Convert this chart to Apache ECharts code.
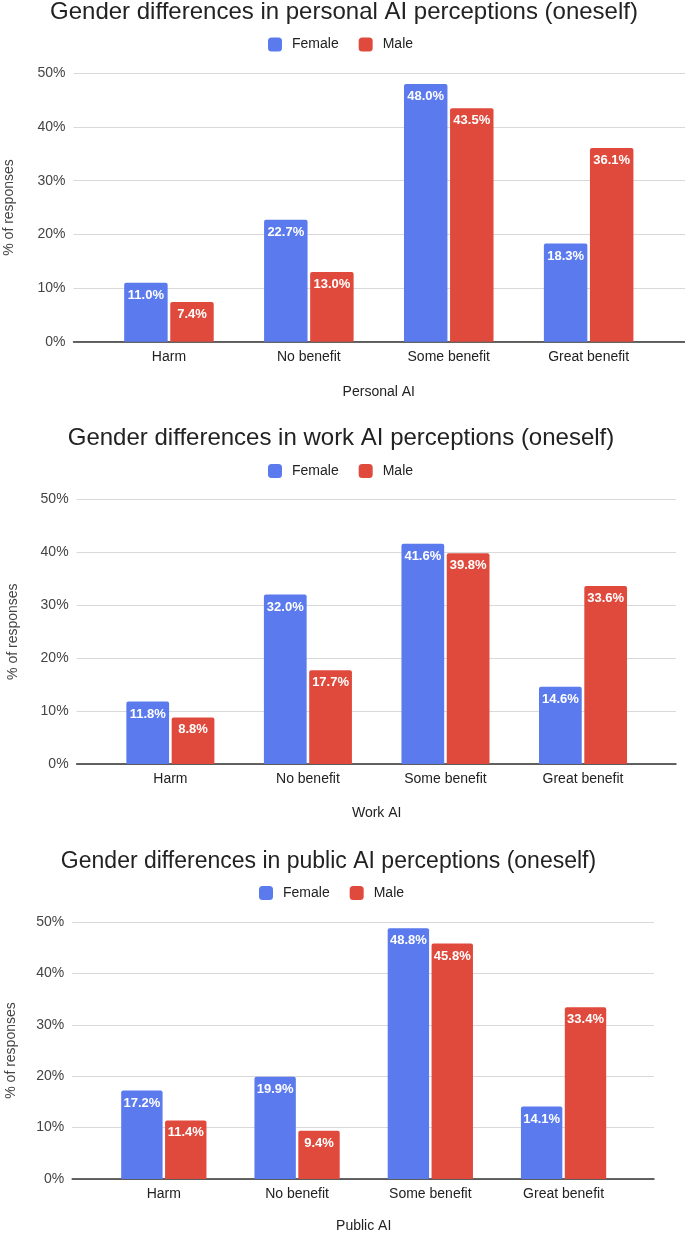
<!DOCTYPE html>
<html>
<head>
<meta charset="utf-8">
<script src="https://cdn.jsdelivr.net/npm/echarts@6/dist/echarts.min.js"></script>
<style>
html,body{margin:0;padding:0;background:#fff;}
#c{width:685px;height:1233px;}
</style>
</head>
<body>
<div id="c"></div>
<script>
var categories = ['Harm', 'No benefit', 'Some benefit', 'Great benefit'];
var seriesNames = ['Female', 'Male'];
var yTicks = [0, 10, 20, 30, 40, 50];

var personalFemale = [11.0, 22.7, 48.0, 18.3];
var personalMale = [7.4, 13.0, 43.5, 36.1];
var workFemale = [11.8, 32.0, 41.6, 14.6];
var workMale = [8.8, 17.7, 39.8, 33.6];
var publicFemale = [17.2, 19.9, 48.8, 14.1];
var publicMale = [11.4, 9.4, 45.8, 33.4];

var titles = [
  'Gender differences in personal AI perceptions (oneself)',
  'Gender differences in work AI perceptions (oneself)',
  'Gender differences in public AI perceptions (oneself)'
];
var xNames = ['Personal AI', 'Work AI', 'Public AI'];
var yName = '% of responses';
var panelData = [[personalFemale, personalMale], [workFemale, workMale], [publicFemale, publicMale]];

// layout (positions only)
var layout = [
  {titleX: 344, titleTop: 0, titleSize: 24, legLeft: 268, legTop: 37.5, top: 73.3, h: 268.4, fullL: 73.5, fullR: 685, barL: 99, barR: 658.6, xGap: 43, yGap: 57.5},
  {titleX: 341, titleTop: 426, titleSize: 24, legLeft: 268, legTop: 464, top: 499.3, h: 264.7, fullL: 76.6, fullR: 676, barL: 101.6, barR: 651.8, xGap: 42, yGap: 56.5},
  {titleX: 328.5, titleTop: 850, titleSize: 23, legLeft: 259, legTop: 886, top: 922, h: 257, fullL: 72.2, fullR: 654, barL: 97.2, barR: 630.2, xGap: 40, yGap: 54.5}
];

var BLUE = '#5A7AEE', RED = '#E04A3C';
var FONT = 'Liberation Sans, Arial, sans-serif';

var option = {
  backgroundColor: '#fff',
  animation: false,
  color: [BLUE, RED],
  title: [], legend: [], grid: [], xAxis: [], yAxis: [], series: []
};

layout.forEach(function (L, i) {
  option.title.push({
    text: titles[i], left: L.titleX, top: L.titleTop, textAlign: 'center', padding: 0,
    textStyle: {fontFamily: FONT, fontSize: L.titleSize, fontWeight: 'normal', color: '#222'}
  });
  option.legend.push({
    data: seriesNames, left: L.legLeft, top: L.legTop, padding: 0,
    icon: 'roundRect', itemWidth: 14, itemHeight: 14, itemGap: 20,
    selectedMode: false,
    textStyle: {fontFamily: FONT, fontSize: 14, color: '#222', padding: [0, 0, 0, 5]}
  });
  option.grid.push({left: L.fullL, width: L.fullR - L.fullL, top: L.top, height: L.h, containLabel: false, outerBoundsMode: 'none'});
  option.grid.push({left: L.barL, width: L.barR - L.barL, top: L.top, height: L.h, containLabel: false, outerBoundsMode: 'none'});
  var gFull = i * 2, gBar = i * 2 + 1;
  option.xAxis.push({
    gridIndex: gFull, type: 'value', min: 0, max: 1,
    axisLine: {show: true, onZero: true, lineStyle: {color: '#333', width: 1.5}},
    axisTick: {show: false}, axisLabel: {show: false}, splitLine: {show: false}
  });
  option.xAxis.push({
    gridIndex: gBar, type: 'category', data: categories,
    axisLine: {show: false}, axisTick: {show: false},
    axisLabel: {fontFamily: FONT, fontSize: 14, color: '#222', margin: 8},
    name: xNames[i], nameLocation: 'middle', nameGap: L.xGap,
    nameTextStyle: {fontFamily: FONT, fontSize: 14, color: '#222'}
  });
  option.yAxis.push({
    gridIndex: gFull, type: 'value', min: yTicks[0], max: yTicks[yTicks.length - 1], interval: 10,
    axisLine: {show: false}, axisTick: {show: false},
    axisLabel: {formatter: '{value}%', fontFamily: FONT, fontSize: 14, color: '#444', margin: 8},
    splitLine: {lineStyle: {color: '#d9d9d9', width: 1}},
    name: yName, nameLocation: 'middle', nameGap: L.yGap, nameRotate: 90,
    nameTextStyle: {fontFamily: FONT, fontSize: 14, color: '#444', fontWeight: 'normal'}
  });
  option.yAxis.push({
    gridIndex: gBar, type: 'value', min: yTicks[0], max: yTicks[yTicks.length - 1], interval: 10,
    show: false
  });
  seriesNames.forEach(function (nm, k) {
    option.series.push({
      name: nm, type: 'bar', xAxisIndex: gBar, yAxisIndex: gBar,
      data: panelData[i][k],
      barCategoryGap: '36%', barGap: '6%',
      itemStyle: {color: k === 0 ? BLUE : RED, borderRadius: [2, 2, 0, 0]},
      label: {
        show: true, position: 'insideTop', distance: 6,
        formatter: function (p) { return p.value.toFixed(1) + '%'; },
        color: '#fff', fontFamily: FONT, fontSize: 13, fontWeight: 'bold'
      }
    });
  });
});

var chart = echarts.init(document.getElementById('c'), null, {renderer: 'canvas'});
chart.setOption(option);
</script>
</body>
</html>
